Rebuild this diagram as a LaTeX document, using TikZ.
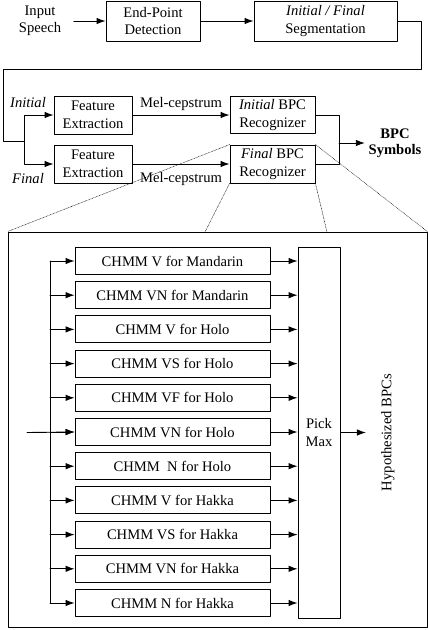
\documentclass[tikz,border=0pt]{standalone}
\usepackage{fontspec}
\setmainfont{Liberation Serif}
\usetikzlibrary{arrows.meta}
\begin{document}
\begin{tikzpicture}[x=1pt,y=-1pt,font=\fontsize{14.6}{17.5}\selectfont,line join=round,line cap=round,>={Latex[length=9pt,width=6.5pt]},line width=0.9pt,
	blk/.style={draw,align=center,inner sep=0pt},
	zoomline/.style={densely dotted,line width=0.5pt}]
	\useasboundingbox (0,0) rectangle (428,630);
	% front end
	\node[align=center] (speech) at (40,21) {Input\\Speech};
	\node[blk,minimum width=94,minimum height=40] (endpt) at (153,21) {End-Point\\Detection};
	\node[blk,minimum width=143,minimum height=40] (seg) at (325.5,21) {\textit{Initial / Final}\\Segmentation};
	\draw[->] ([xshift=9pt]speech.east) -- (endpt);
	\draw[->] (endpt) -- (seg);
	\coordinate (split) at (24,141);
	\draw (seg.east) -| (421,69) -| (3,141) -- (split);
	\node[blk,minimum width=78,minimum height=38] (feat1) at (93,115) {Feature\\Extraction};
	\node[blk,minimum width=78,minimum height=38] (feat2) at (93,164) {Feature\\Extraction};
	\draw[->] (split) |- (feat1.west);
	\draw[->] (split) |- (feat2.west);
	\node at (28,103) {\textit{Initial}};
	\node at (28,179) {\textit{Final}};
	\node[blk,minimum width=85,minimum height=37] (rec1) at (272.5,115) {\textit{Initial} BPC\\Recognizer};
	\node[blk,minimum width=85,minimum height=38] (rec2) at (272.5,164) {\textit{Final} BPC\\Recognizer};
	\draw[->] (feat1) -- node[above=1pt]{Mel-cepstrum} (rec1);
	\draw[->] (feat2) -- node[below=5pt]{Mel-cepstrum} (rec2);
	\coordinate (join) at (339,143);
	\node[align=center,font=\fontsize{14.6}{16}\selectfont\bfseries] (bpc) at (395,143) {BPC\\Symbols};
	\draw (rec1.east) -- (rec1.east -| join) -- (rec2.east -| join) -- (rec2.east);
	\draw[->] (join) -- (bpc);
	% zoomed recognizer
	\node[draw,minimum width=419,minimum height=395,inner sep=0pt] (bank) at (217.5,429.5) {};
	\coordinate (z1) at (205,232);
	\coordinate (z2) at (327,232);
	\draw[zoomline] (rec2.north west) -- (bank.north west);
	\draw[zoomline] (rec2.south west) -- (z1);
	\draw[zoomline] (rec2.south east) -- (z2);
	\draw[zoomline] (rec2.north east) -- (bank.north east);
	\node[blk,minimum width=42,minimum height=371] (pick) at (319,432.5) {Pick\\Max};
	\foreach \i/\t in {1/CHMM V for Mandarin,2/CHMM VN for Mandarin,3/CHMM V for Holo,4/CHMM VS for Holo,5/CHMM VF for Holo,6/CHMM VN for Holo,7/CHMM~ N for Holo,8/CHMM V for Hakka,9/CHMM VS for Hakka,10/CHMM VN for Hakka,11/CHMM N for Hakka}
	{
		\node[blk,minimum width=195,minimum height=27] (m\i) at (172.5,{261+(\i-1)*34.2}) {\t};
		\coordinate (bus\i) at (50,{261+(\i-1)*34.2});
		\draw[->] (bus\i) -- (m\i.west);
		\draw[->] (m\i.east) -- (m\i.east -| pick.west);
	}
	\draw (bus1) -- (bus11);
	\coordinate (in) at (27,432.5);
	\draw[->] (in) -- (m6.west);
	\node[rotate=90,inner sep=0pt] (hyp) at (388,432.5) {Hypothesized BPCs};
	\draw[->,shorten >=15pt] (pick) -- (hyp);
\end{tikzpicture}
\end{document}
